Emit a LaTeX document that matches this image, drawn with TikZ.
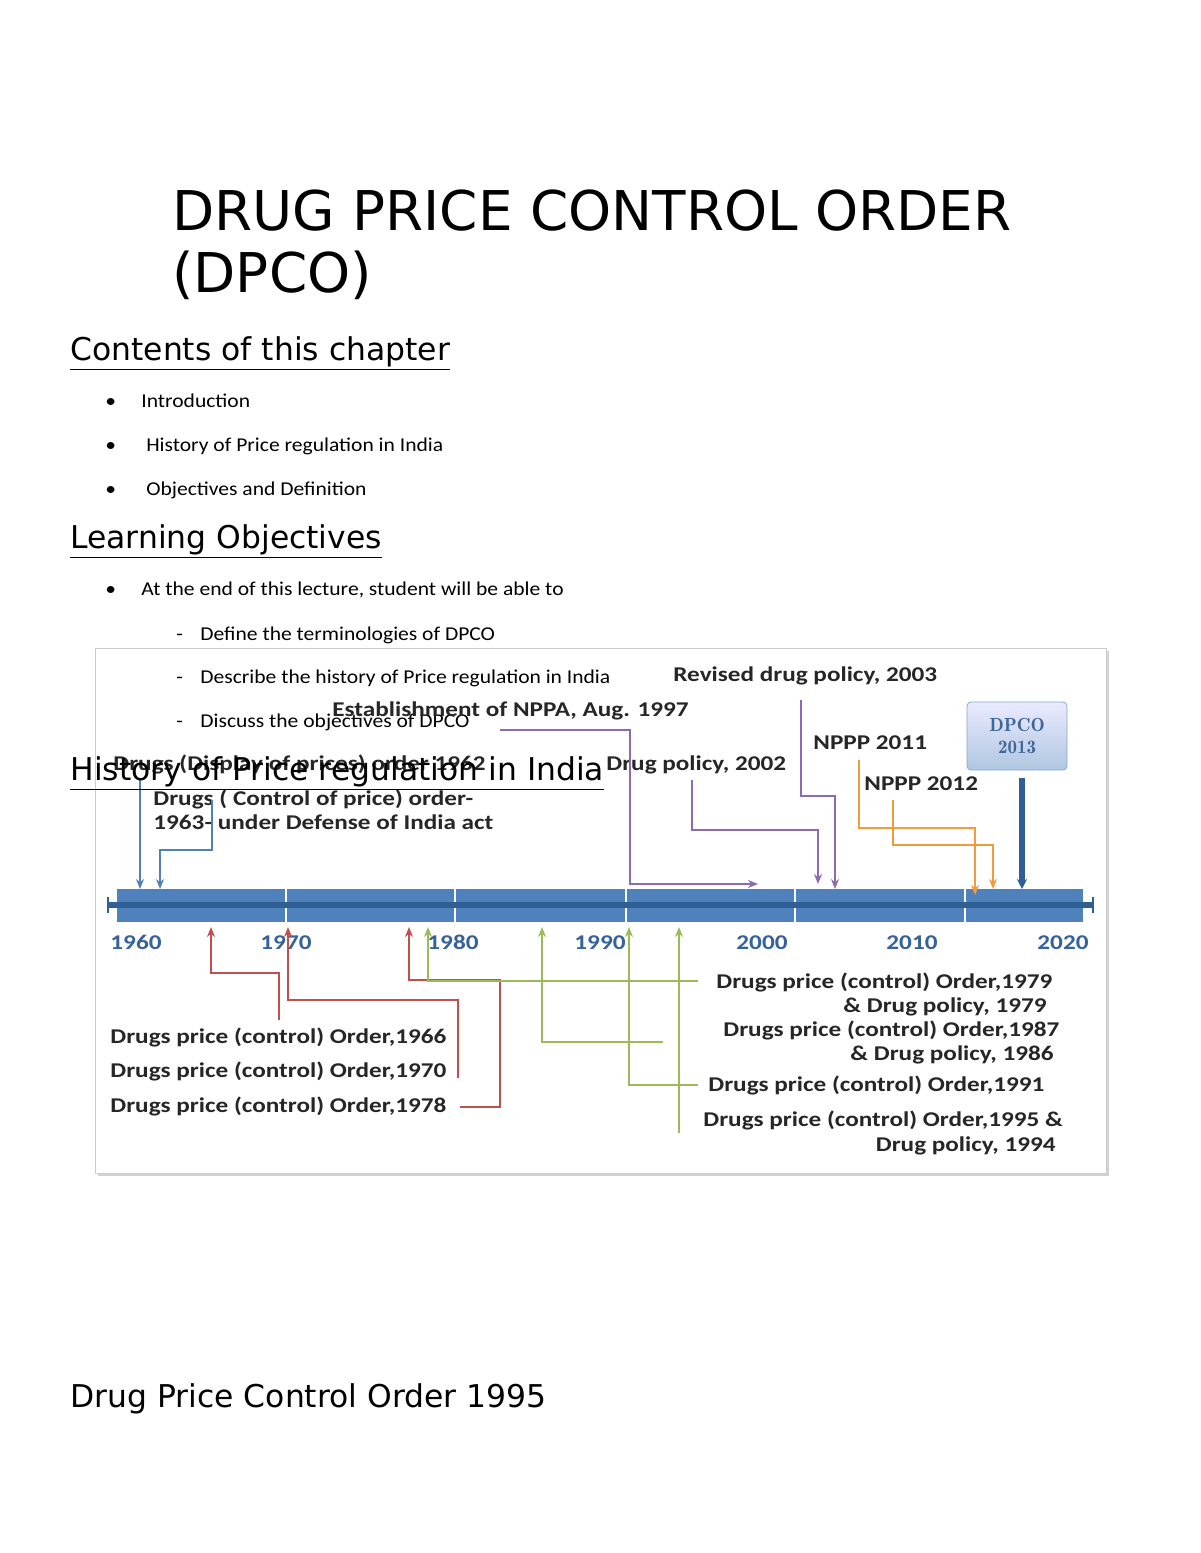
\documentclass[tikz,border=0pt]{standalone}
\usepackage{fontspec}
\setmainfont{DejaVu Sans}
\newfontfamily\carl{Carlito}[FakeStretch=1.1]
\newfontfamily\carlw{Carlito}[FakeStretch=1.2]
\usetikzlibrary{arrows.meta,shadows}
\definecolor{barblue}{HTML}{4F81BD}
\definecolor{darkblue}{HTML}{2F5F94}
\definecolor{yrblue}{HTML}{35629A}
\definecolor{purp}{HTML}{8C6BB1}
\definecolor{oran}{HTML}{F59A3C}
\definecolor{redl}{HTML}{C0504D}
\definecolor{grn}{HTML}{9BBB59}
\begin{document}
\begin{tikzpicture}[x=0.5pt,y=-0.5pt,
 doc/.style={anchor=base west,inner sep=0},
 lab/.style={anchor=base west,inner sep=0,font=\carlw\bfseries\fontsize{10.5}{12}\selectfont,text=black!85},
 labr/.style={anchor=base east,inner sep=0,font=\carlw\bfseries\fontsize{10.5}{12}\selectfont,text=black!85},
 yr/.style={anchor=base,inner sep=0,font=\carlw\bfseries\fontsize{10.5}{12}\selectfont,text=yrblue},
 conn/.style={line width=1.2pt},
 arr/.style={conn,-{Stealth[length=5pt,width=4pt]}},
 rarr/.style={conn,{Stealth[length=5pt,width=4pt]}-},
 small/.style={doc,font=\carl\fontsize{9.8}{11}\selectfont}]
\useasboundingbox[fill=white] (0,0) rectangle (1200,1553);
% title
\node[doc,font=\fontsize{27.4}{32}\selectfont] (t1) at (172,230) {DRUG PRICE CONTROL ORDER};
\node[doc,font=\fontsize{27.4}{32}\selectfont] (t2) at (172,292) {(DPCO)};
\node[doc,font=\fontsize{15.7}{18}\selectfont] (h1) at (70,360) {\underline{Contents of this chapter}};
\foreach \y/\t [count=\i] in {407/Introduction,451/{\ History of Price regulation in India},495/{\ Objectives and Definition}}{
  \node[small] (bu\i) at (105,\y) {•};
  \node[small] (c\i) at (141,\y) {\t};}
\node[doc,font=\fontsize{15.7}{18}\selectfont] (h2) at (70,548) {\underline{Learning Objectives}};
\node[small] (bu4) at (105,595) {•};
\node[small] (lo) at (141,595) {At the end of this lecture, student will be able to};
% image
\node[draw=black!20,fill=white,minimum width=505.5pt,minimum height=262.5pt,anchor=north west,inner sep=0,
  drop shadow={shadow xshift=1.5pt,shadow yshift=-1.5pt,opacity=0.35}] (img) at (95,648) {};
\foreach \y/\t [count=\i] in {640/Define the terminologies of DPCO,683/Describe the history of Price regulation in India,727/Discuss the objectives of DPCO}{
  \node[small] (da\i) at (176,\y) {-};
  \node[small] (d\i) at (200,\y) {\t};}
% bar
\fill[barblue] (117,889) rectangle (1083,922);
\foreach \x in {286,455,626,795,965} \draw[white,line width=0.8pt] (\x,889) -- (\x,922);
\draw[darkblue,line width=3pt] (108,905) -- (1093,905);
\draw[darkblue,line width=1pt] (108,897) -- (108,913) (1093,897) -- (1093,913);
\foreach \x/\t in {136/1960,286/1970,453/1980,600/1990,762/2000,912/2010,1063/2020}
  \node[yr] (y\t) at (\x,949) {\t};
% top labels
\node[lab] (l62) at (113,770) {Drugs (Display of prices) order 1962};
\node[lab] (l63a) at (153,805) {Drugs ( Control of price) order-};
\node[lab] (l63b) at (153,829) {1963- under Defense of India act};
\node[lab] (l97) at (332,716) {Establishment of NPPA, Aug. 1997};
\node[lab] (l02) at (606,770) {Drug policy, 2002};
\node[lab] (l03) at (673,681) {Revised drug policy, 2003};
\node[lab] (l11) at (813,749) {NPPP 2011};
\node[lab] (l12) at (864,790) {NPPP 2012};
\node[draw=barblue!70,rounded corners=2pt,top color=blue!8,bottom color=barblue!45,
  minimum width=50pt,minimum height=34pt,align=center,inner sep=0,
  font=\fontfamily{lmr}\bfseries\fontsize{9.5}{11}\selectfont,text=barblue!80!black] (box) at (1017,736) {DPCO\\2013};
\coordinate (b1) at (140,780); \coordinate (e1) at (140,889);
\draw[arr,barblue] (b1) -- (e1);
\coordinate (b2) at (212,800); \coordinate (e2) at (160,889);
\draw[arr,barblue] (b2) -- (212,850) -- (160,850) -- (e2);
\coordinate (b3) at (500,730); \coordinate (e3) at (758,884);
\draw[arr,purp] (b3) -- (630,730) -- (630,884) -- (e3);
\coordinate (b4) at (692,780); \coordinate (e4) at (818,884);
\draw[arr,purp] (b4) -- (692,830) -- (818,830) -- (e4);
\coordinate (b5) at (801,700); \coordinate (e5) at (835,889);
\draw[arr,purp] (b5) -- (801,796) -- (835,796) -- (e5);
\coordinate (b6) at (859,760); \coordinate (e6) at (975,895);
\draw[arr,oran] (b6) -- (859,828) -- (975,828) -- (e6);
\coordinate (b7) at (893,800); \coordinate (e7) at (993,889);
\draw[arr,oran] (b7) -- (893,845) -- (993,845) -- (e7);
\coordinate (e8) at (1022,889);
\draw[darkblue,line width=3pt,-{Stealth[length=5pt,width=5pt]}] (1022,778) -- (e8);
% bottom labels
\node[lab] (l66) at (110,1043) {Drugs price (control) Order,1966};
\node[lab] (l70) at (110,1077) {Drugs price (control) Order,1970};
\node[lab] (l78) at (110,1112) {Drugs price (control) Order,1978};
\node[lab] (l79) at (716,988) {Drugs price (control) Order,1979};
\node[labr] (l79b) at (1047,1012) {\& Drug policy, 1979};
\node[lab] (l87) at (723,1036) {Drugs price (control) Order,1987};
\node[labr] (l87b) at (1054,1060) {\& Drug policy, 1986};
\node[lab] (l91) at (708,1091) {Drugs price (control) Order,1991};
\node[lab] (l95) at (703,1126) {Drugs price (control) Order,1995 \&};
\node[labr] (l95b) at (1056,1151) {Drug policy, 1994};
\coordinate (r1) at (211,927); \draw[rarr,redl] (r1) -- (211,973) -- (279,973) -- (279,1020);
\coordinate (r2) at (288,927); \draw[rarr,redl] (r2) -- (288,1000) -- (458,1000) -- (458,1078);
\coordinate (r3) at (409,927); \draw[rarr,redl] (r3) -- (409,980) -- (500,980) -- (500,1107) -- (460,1107);
\coordinate (g1) at (428,927); \draw[rarr,grn] (g1) -- (428,981) -- (698,981);
\coordinate (g2) at (542,927); \draw[rarr,grn] (g2) -- (542,1042) -- (663,1042);
\coordinate (g3) at (629,927); \draw[rarr,grn] (g3) -- (629,1085) -- (698,1085);
\coordinate (g4) at (679,927); \draw[rarr,grn] (g4) -- (679,1133);
% overlapping heading
\node[doc,font=\fontsize{15.7}{18}\selectfont] (h3) at (70,780) {\underline{History of Price regulation in India}};
\node[doc,font=\fontsize{15.7}{18}\selectfont] (h4) at (70,1407) {Drug Price Control Order 1995};
\end{tikzpicture}
\end{document}
